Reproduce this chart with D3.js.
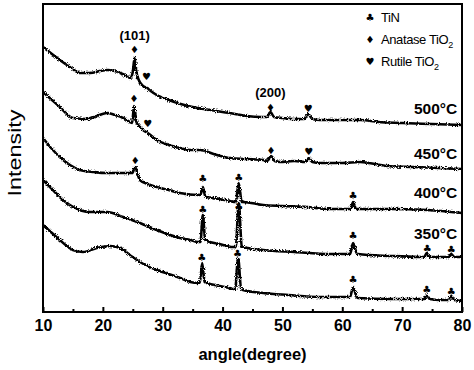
<!DOCTYPE html>
<html>
<head>
<meta charset="utf-8">
<script src="https://cdn.jsdelivr.net/npm/d3@7"></script>
<style>
  body { margin: 0; background: #fff; }
  svg { display: block; font-family: "Liberation Sans", Arial, sans-serif; }
</style>
</head>
<body>
<svg id="chart"></svg>
<script>
// XRD patterns: [2theta, intensity (a.u.)]
const trace500 = [[10,265],[11.5,258],[12.8,252],[14.5,245],[16.2,239],[17.9,239],[19.5,241],[20.7,242],[22,241],[22.9,239],[24,236],[24.6,234],[25.0,240],[25.3,254],[25.6,240],[26.0,232],[26.7,226],[27.4,224],[28,221],[29,217],[31,212],[33,208],[35,205],[37.9,202],[41.2,199],[44,196],[46.5,195],[47.4,195],[48,200],[48.6,195],[50,194],[51.8,193],[53.6,193],[54.3,198],[55,193],[56.3,192],[60,192],[63,192],[66,190],[70,189],[75,188],[80,187]];
const trace450 = [[10,220],[11.5,212],[12.8,205],[15,194],[17.4,193],[19,196],[20.7,199],[22,197],[23.4,194],[24.5,190],[24.9,189],[25.2,206],[25.6,190],[25.9,187],[26.7,182],[27.5,179],[29,172],[31,167],[32.9,164],[34.6,162],[36.2,162],[38.5,158],[41.2,154],[44,153],[46.8,152],[47.5,151],[48.1,156],[48.7,151],[49.6,150],[52,151],[53.8,150],[54.4,154],[55,150],[56.3,149],[60,149],[63,150],[67.5,146],[72,145],[80,143]];
const trace400 = [[10,174],[11.5,163],[12.8,155],[14.5,147],[16.2,142],[18.5,140],[20.7,139],[22.9,139],[24.9,139],[25.4,145],[25.9,136],[26.2,132],[27.5,128],[29,125],[31,122],[32.9,119],[35.9,117],[36.3,117],[36.7,125],[37.1,116],[37.4,115],[39.5,113],[41.2,111],[42.2,110],[42.7,129],[43.2,110],[43.4,110],[46.8,107],[50,106],[54.1,105],[57.9,103],[61.4,103],[61.8,110],[62.3,103],[63,103],[68,103],[74.2,102],[80,99]];
const trace350 = [[10,132],[11.5,123],[12.8,115],[15,105],[17.9,100],[20.7,100],[23.4,95],[26.2,89],[29,82],[32.9,74],[34.6,72],[35.9,70],[36.3,70],[36.7,97],[37.1,72],[37.4,71],[39.5,68],[41.7,65],[42.2,65],[42.7,109],[43.2,66],[43.4,65],[46.8,62],[52,60],[57.9,58],[61.3,58],[61.8,69],[62.4,59],[62.6,58],[68,56],[72.9,55],[73.7,55],[74.1,59],[74.6,55],[76.3,55],[77.8,55],[78.2,58],[78.7,55],[80,55]];
const trace300 = [[10,87],[11.5,79],[12.8,72],[15,62],[16.7,60],[19,64],[21.2,66],[22.9,64],[24.5,57],[26.2,50],[29,42],[31,38],[32.9,34],[34.6,30],[35.9,29],[36.2,29],[36.6,49],[37.0,30],[37.4,29],[39.5,26],[41.2,24],[42.1,23],[42.6,54],[43.1,23],[43.4,22],[46.8,19],[51,17],[56.3,15],[61.3,15],[61.8,25],[62.4,15],[62.6,14],[68,13],[72.9,13],[73.7,13],[74.1,17],[74.6,13],[76.3,12],[77.8,12],[78.2,16],[78.7,12],[80,11]];
const traces = [trace500, trace450, trace400, trace350, trace300];

// peak markers: [2theta, intensity, phase]
const markers = [
  [25.3,263,'A'],[27.3,236,'R'],[48.0,205,'A'],[54.3,204,'R'],
  [25.2,214,'A'],[27.5,189,'R'],[48.1,162,'A'],[54.4,161,'R'],
  [25.4,152,'A'],[36.7,134,'T'],[42.7,135,'T'],[61.8,117,'T'],
  [36.7,103,'T'],[42.7,106,'T'],[61.8,77,'T'],[74.2,64,'T'],[78.2,63,'T'],
  [36.5,55,'T'],[42.5,59,'T'],[61.8,33,'T'],[74.1,23,'T'],[78.2,21,'T']
];
const hklLabels = [[25.3,277,'(101)'],[48.0,220,'(200)']];
const tempLabels = [[203,'500°C'],[158,'450°C'],[119,'400°C'],[78,'350°C']];
const phaseSymbols = {T: '\u2663', A: '\u2666', R: '\u2665'};
const legendItems = [['T','TiN',''],['A','Anatase TiO','2'],['R','Rutile TiO','2']];
const majorTicks = [10,20,30,40,50,60,70,80];
const minorTicks = [15,25,35,45,55,65,75];

const width = 474, height = 370;
const margin = {top: 4, right: 12, bottom: 58, left: 43};
const plotW = width - margin.left - margin.right;
const plotH = height - margin.top - margin.bottom;

const svg = d3.select('#chart').attr('width', width).attr('height', height);

// slight roughness so the traces look like noisy counts
const defs = svg.append('defs');
const filter = defs.append('filter').attr('id', 'rough')
  .attr('filterUnits', 'userSpaceOnUse')
  .attr('x', 0).attr('y', 0).attr('width', width).attr('height', height);
filter.append('feTurbulence').attr('type', 'fractalNoise')
  .attr('baseFrequency', 0.9).attr('numOctaves', 1).attr('seed', 4).attr('result', 'noise');
filter.append('feDisplacementMap').attr('in', 'SourceGraphic').attr('in2', 'noise')
  .attr('scale', 4).attr('xChannelSelector', 'R').attr('yChannelSelector', 'G');

const g = svg.append('g').attr('transform', `translate(${margin.left},${margin.top})`);

const x = d3.scaleLinear().domain([10, 80]).range([0, plotW]);
const y = d3.scaleLinear().domain([0, plotH]).range([plotH, 0]);

const line = d3.line()
  .x(d => x(d[0]))
  .y(d => y(d[1]))
  .curve(d3.curveMonotoneX);

g.append('g').attr('filter', 'url(#rough)')
  .selectAll('path')
  .data(traces)
  .enter()
  .append('path')
  .attr('d', line)
  .attr('fill', 'none')
  .attr('stroke', '#000')
  .attr('stroke-width', 2.6)
  .attr('stroke-linejoin', 'round');

// peak markers
g.selectAll('text.marker')
  .data(markers)
  .enter()
  .append('text')
  .attr('class', 'marker')
  .attr('x', d => x(d[0]))
  .attr('y', d => y(d[1]))
  .attr('dy', '0.35em')
  .attr('text-anchor', 'middle')
  .style('font-family', '"DejaVu Sans", sans-serif')
  .style('font-size', '10px')
  .text(d => phaseSymbols[d[2]]);

g.selectAll('text.hkl')
  .data(hklLabels)
  .enter()
  .append('text')
  .attr('class', 'hkl')
  .attr('x', d => x(d[0]))
  .attr('y', d => y(d[1]))
  .attr('dy', '0.35em')
  .attr('text-anchor', 'middle')
  .style('font-size', '13px')
  .style('font-weight', 'bold')
  .text(d => d[2]);

g.selectAll('text.temp')
  .data(tempLabels)
  .enter()
  .append('text')
  .attr('class', 'temp')
  .attr('x', x(79.2))
  .attr('y', d => y(d[0]))
  .attr('dy', '0.35em')
  .attr('text-anchor', 'end')
  .style('font-size', '15.5px')
  .style('font-weight', 'bold')
  .text(d => d[1]);

// legend
const legend = g.append('g').attr('transform', 'translate(327,13)');
const rows = legend.selectAll('g')
  .data(legendItems)
  .enter()
  .append('g')
  .attr('transform', (d, i) => `translate(0,${i * 22})`);
rows.append('text')
  .attr('text-anchor', 'middle')
  .attr('dy', '0.35em')
  .style('font-family', '"DejaVu Sans", sans-serif')
  .style('font-size', '10px')
  .text(d => phaseSymbols[d[0]]);
const lt = rows.append('text')
  .attr('x', 11)
  .attr('dy', '0.35em')
  .style('font-size', '13px')
  .style('letter-spacing', '-0.4px');
lt.append('tspan').text(d => d[1]);
lt.append('tspan').attr('dy', 4).style('font-size', '9px').text(d => d[2]);

// axes
const axis = g.append('g').attr('transform', `translate(0,${plotH})`)
  .call(d3.axisBottom(x).tickValues(majorTicks).tickSizeInner(-5).tickSizeOuter(0).tickPadding(8));
axis.select('.domain').remove();
axis.selectAll('line').attr('stroke-width', 2);
axis.selectAll('text')
  .style('font-family', '"Liberation Sans", Arial, sans-serif')
  .style('font-size', '16px')
  .style('font-weight', 'bold')
  .attr('fill', '#000');

const minor = g.append('g').attr('transform', `translate(0,${plotH})`)
  .call(d3.axisBottom(x).tickValues(minorTicks).tickSizeInner(-3).tickSizeOuter(0).tickFormat(''));
minor.select('.domain').remove();
minor.selectAll('line').attr('stroke-width', 2);

g.append('rect')
  .attr('width', plotW)
  .attr('height', plotH)
  .attr('fill', 'none')
  .attr('stroke', '#000')
  .attr('stroke-width', 2);

svg.append('text')
  .attr('x', margin.left + plotW / 2)
  .attr('y', 360)
  .attr('text-anchor', 'middle')
  .style('font-size', '16.5px')
  .style('font-weight', 'bold')
  .text('angle(degree)');

svg.append('text')
  .attr('transform', 'translate(21,153) rotate(-90)')
  .attr('text-anchor', 'middle')
  .attr('textLength', 87)
  .attr('lengthAdjust', 'spacingAndGlyphs')
  .style('font-size', '19px')
  .text('Intensity');
</script>
</body>
</html>
